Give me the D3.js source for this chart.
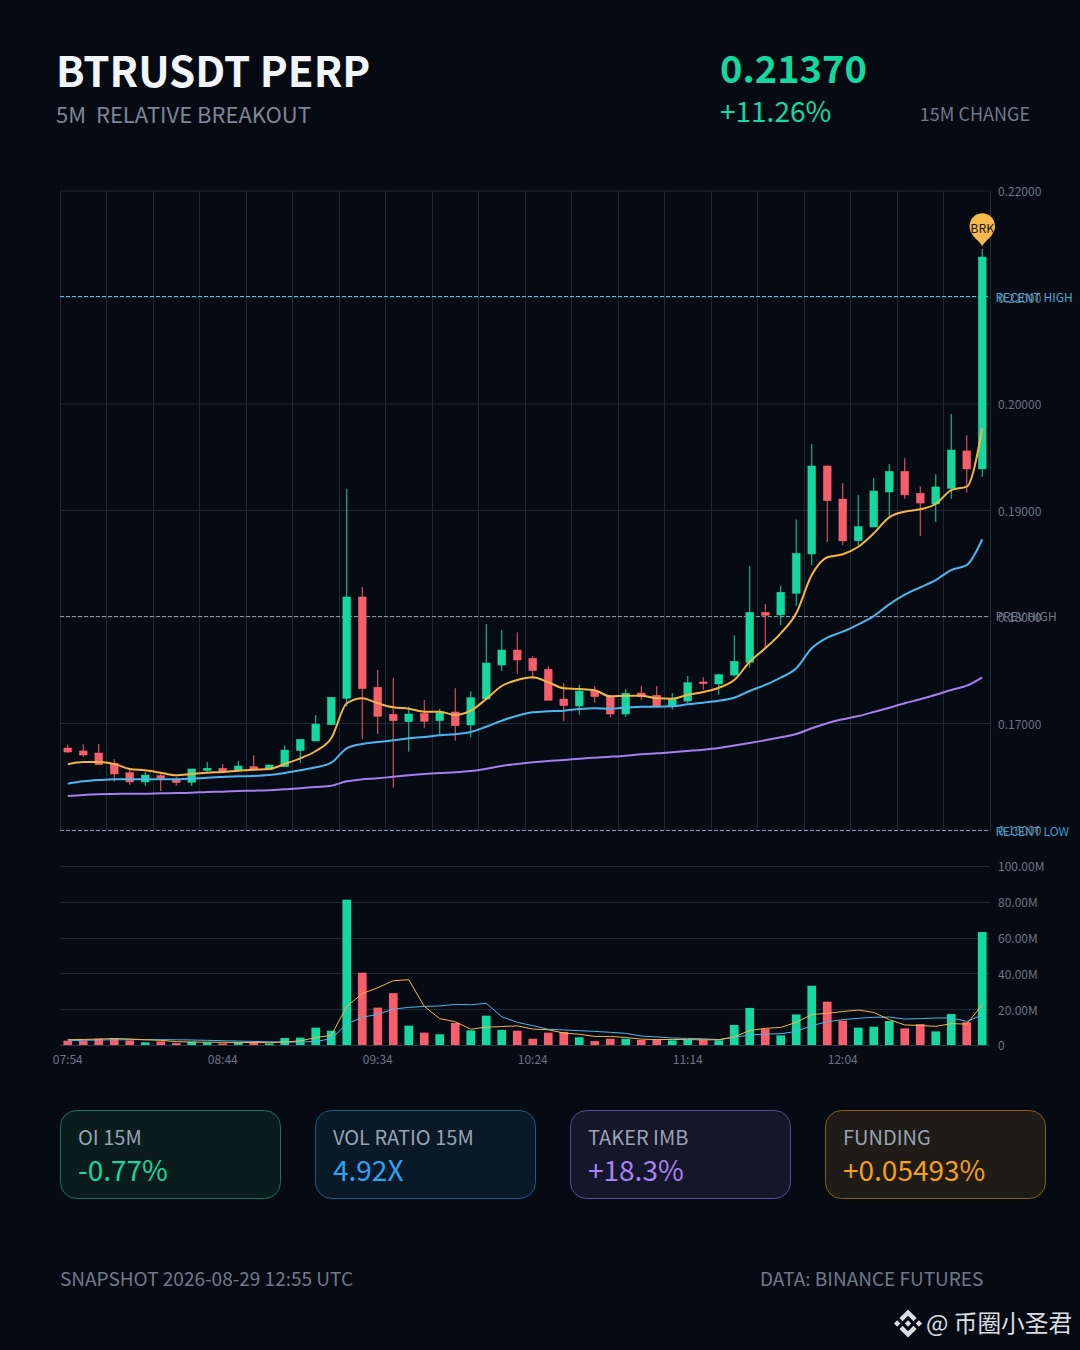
<!DOCTYPE html>
<html>
<head>
<meta charset="utf-8">
<title>BTRUSDT PERP</title>
<script src="https://cdn.jsdelivr.net/npm/d3@7"></script>
<style>
  html, body { margin: 0; padding: 0; background: #060b13; }
  svg { display: block; }
  text { font-family: "Noto Sans CJK SC", "Noto Sans", sans-serif; }
</style>
</head>
<body>
<div id="chart"></div>
<script>
// data
var times = ["07:54","07:59","08:04","08:09","08:14","08:19","08:24","08:29","08:34","08:39",
  "08:44","08:49","08:54","08:59","09:04","09:09","09:14","09:19","09:24","09:29",
  "09:34","09:39","09:44","09:49","09:54","09:59","10:04","10:09","10:14","10:19",
  "10:24","10:29","10:34","10:39","10:44","10:49","10:54","10:59","11:04","11:09",
  "11:14","11:19","11:24","11:29","11:34","11:39","11:44","11:49","11:54","11:59",
  "12:04","12:09","12:14","12:19","12:24","12:29","12:34","12:39","12:44","12:49"];
var timeTicks = ["07:54","08:44","09:34","10:24","11:14","12:04"];

var open = [.16770,.16742,.16723,.16626,.16538,.16451,.16510,.16469,.16448,.16561,
  .16579,.16561,.16594,.16570,.16594,.16745,.16836,.16989,.17237,.18188,
  .17340,.17086,.17017,.17092,.17026,.17108,.16986,.17230,.17549,.17690,
  .17612,.17509,.17230,.17164,.17308,.17252,.17089,.17286,.17265,.17164,
  .17211,.17390,.17371,.17455,.17575,.18044,.18019,.18223,.18592,.19418,
  .19108,.18716,.18845,.19174,.19368,.19162,.19061,.19208,.19559,.19390];
var close = [.16732,.16704,.16613,.16526,.16451,.16516,.16482,.16444,.16573,.16579,
  .16547,.16601,.16570,.16610,.16751,.16852,.16995,.17246,.18188,.17327,
  .17068,.17026,.17089,.17021,.17101,.16979,.17242,.17568,.17690,.17596,
  .17496,.17218,.17167,.17305,.17252,.17089,.17284,.17252,.17164,.17233,
  .17383,.17374,.17458,.17584,.18044,.18016,.18232,.18598,.19418,.19092,
  .18714,.18848,.19183,.19368,.19146,.19070,.19221,.19568,.19390,.21380];
var high = [.16801,.16805,.16808,.16664,.16579,.16547,.16532,.16500,.16573,.16638,
  .16620,.16648,.16701,.16610,.16795,.16854,.17080,.17249,.19202,.18282,
  .17502,.17430,.17158,.17221,.17136,.17331,.17302,.17934,.17878,.17856,
  .17634,.17540,.17377,.17362,.17352,.17268,.17324,.17355,.17352,.17286,
  .17446,.17434,.17468,.17828,.18479,.18122,.18294,.18917,.19624,.19424,
  .19258,.19146,.19305,.19437,.19490,.19227,.19340,.19906,.19706,.21455];
var low = [.16723,.16685,.16610,.16454,.16423,.16416,.16366,.16416,.16413,.16547,
  .16538,.16547,.16557,.16563,.16592,.16629,.16836,.16986,.17161,.16854,
  .16901,.16397,.16735,.16961,.16899,.16839,.16870,.17230,.17493,.17465,
  .17415,.17218,.17021,.17083,.17195,.17058,.17061,.17221,.17164,.17130,
  .17190,.17317,.17270,.17439,.17524,.17700,.17925,.18103,.18485,.18704,
  .18673,.18673,.18845,.18936,.19111,.18761,.18892,.19111,.19167,.19315];

var maFast = [.16617,.16638,.16638,.16620,.16573,.16561,.16538,.16514,.16526,.16538,
  .16545,.16557,.16566,.16573,.16620,.16673,.16742,.16861,.17190,.17237,
  .17190,.17152,.17139,.17111,.17111,.17080,.17120,.17230,.17352,.17408,
  .17434,.17387,.17331,.17324,.17312,.17255,.17261,.17261,.17237,.17233,
  .17270,.17296,.17336,.17408,.17580,.17706,.17847,.18035,.18394,.18561,
  .18589,.18660,.18786,.18936,.18989,.19011,.19061,.19192,.19224,.19772];
var maMid = [.16435,.16457,.16469,.16476,.16476,.16476,.16476,.16476,.16482,.16491,
  .16498,.16504,.16507,.16516,.16535,.16561,.16589,.16632,.16767,.16808,
  .16826,.16842,.16861,.16873,.16889,.16899,.16920,.16970,.17026,.17073,
  .17105,.17115,.17120,.17136,.17143,.17139,.17148,.17158,.17158,.17161,
  .17180,.17195,.17214,.17242,.17305,.17362,.17430,.17518,.17706,.17806,
  .17862,.17931,.18009,.18119,.18209,.18279,.18347,.18441,.18488,.18730];
var maSlow = [.16319,.16329,.16335,.16338,.16341,.16341,.16345,.16347,.16350,.16357,
  .16360,.16366,.16369,.16373,.16382,.16392,.16404,.16416,.16457,.16476,
  .16485,.16500,.16514,.16526,.16535,.16542,.16554,.16576,.16601,.16620,
  .16636,.16648,.16657,.16669,.16679,.16688,.16698,.16711,.16720,.16730,
  .16742,.16754,.16770,.16793,.16817,.16842,.16870,.16901,.16955,.17002,
  .17039,.17070,.17108,.17148,.17190,.17227,.17270,.17315,.17355,.17434];

// volume in millions
var volume = [2.4,2.4,3.5,3.9,2.6,1.5,2.0,1.1,1.9,1.5,
  0.9,1.3,1.5,0.9,3.9,4.1,9.7,8.0,81.2,40.4,
  20.9,29.0,10.8,6.9,6.0,12.3,8.2,16.4,8.4,8.0,
  3.5,6.9,7.3,4.3,2.2,3.5,3.5,2.8,3.2,2.6,
  3.0,3.0,2.6,11.2,20.7,8.9,5.4,17.1,33.1,24.2,
  13.6,9.7,10.2,13.4,9.3,11.7,7.6,17.3,12.7,63.1];
var volFast = [3.0,3.1,3.3,3.6,3.4,2.9,2.6,1.9,1.6,1.6,
  1.5,1.4,1.4,1.3,1.7,2.3,4.1,5.4,21.6,28.7,
  32.0,35.9,36.5,21.6,14.7,13.0,8.8,10.0,10.3,10.7,
  8.9,8.5,6.7,6.0,4.8,4.8,4.2,3.3,3.0,3.1,
  3.0,2.9,2.9,4.5,8.1,9.3,9.8,12.7,17.0,17.7,
  18.7,19.5,18.2,14.2,11.2,10.9,10.4,11.9,11.7,22.5];
var volSlow = [2.4,2.6,2.8,2.9,3.0,3.0,3.0,2.9,2.8,2.6,
  2.4,2.2,2.0,1.8,1.6,1.7,2.0,3.5,11.7,15.5,
  17.1,20.1,21.0,21.6,21.8,22.7,22.5,23.3,15.8,12.7,
  10.8,8.8,8.4,8.0,7.6,7.1,6.5,5.0,4.5,3.9,
  3.7,3.5,3.0,4.3,5.6,6.1,6.3,7.6,10.8,13.0,
  14.2,14.9,15.5,15.6,14.5,14.7,15.1,15.1,13.2,16.8];

var priceTicks = [.16,.17,.18,.19,.20,.21,.22];
var volumeTicks = [0,20,40,60,80,100];
var recentHigh = .21012, prevHigh = .1801, recentLow = .16;
var cards = [
  {label: "OI 15M", value: "-0.77%", color: "#19d69b", bg: "#0b1c1d", border: "#12755c"},
  {label: "VOL RATIO 15M", value: "4.92X", color: "#2ea3f2", bg: "#0a1927", border: "#1c5c88"},
  {label: "TAKER IMB", value: "+18.3%", color: "#a583f2", bg: "#15162a", border: "#5c4a94"},
  {label: "FUNDING", value: "+0.05493%", color: "#f59e1b", bg: "#1f1b17", border: "#8a5f1e"}
];

var UP = "#14d8a0", DOWN = "#f75e6c";
var GRID = "#1e2935", TICK_TEXT = "#6b7583";
var ORANGE = "#f5b544", BLUE = "#4db6ee", PURPLE = "#a57ff0";

var svg = d3.select("#chart").append("svg")
  .attr("width", 1080)
  .attr("height", 1350);

svg.append("rect").attr("width", 1080).attr("height", 1350).attr("fill", "#060b13");

// scales
var x = d3.scaleBand().domain(times).range([60, 990]);
var y = d3.scaleLinear().domain([.16, .22]).range([830, 191]);
var yVol = d3.scaleLinear().domain([0, 100]).range([1045, 866]);
var xc = function(i) { return x(times[i]) + x.bandwidth() / 2; };
var idx = d3.range(times.length);

// header
function label(str, px, py, size, color, weight, anchor) {
  return svg.append("text").attr("x", px).attr("y", py)
    .attr("font-size", size).attr("fill", color)
    .attr("font-weight", weight || 400)
    .attr("text-anchor", anchor || "start")
    .text(str);
}
label("BTRUSDT PERP", 56, 87, 42, "#f2f5f8", 700);
label("5M  RELATIVE BREAKOUT", 56, 123, 22, "#7c8695").style("white-space", "pre");
label("0.21370", 720, 83, 38, UP, 700);
label("+11.26%", 720, 122, 28, UP);
label("15M CHANGE", 1030, 121, 18, "#6f7a89", 400, "end");

// price grid
var gridG = svg.append("g");
gridG.selectAll(".h").data(priceTicks).enter().append("line")
  .attr("x1", 60).attr("x2", 991)
  .attr("y1", function(d) { return y(d); })
  .attr("y2", function(d) { return y(d); })
  .attr("stroke", GRID);
var vTicks = times.filter(function(d, i) { return i % 3 === 0; });
gridG.selectAll(".v").data(vTicks).enter().append("line")
  .attr("x1", function(d) { return Math.floor(x(d)) + .5; })
  .attr("x2", function(d) { return Math.floor(x(d)) + .5; })
  .attr("y1", 191).attr("y2", 830)
  .attr("stroke", GRID);
gridG.append("line").attr("x1", 990.5).attr("x2", 990.5).attr("y1", 191).attr("y2", 830).attr("stroke", "#232e3b");

// price axis
var yAxisG = svg.append("g")
  .attr("transform", "translate(991,1)")
  .call(d3.axisRight(y).tickValues(priceTicks).tickSize(0).tickPadding(7).tickFormat(d3.format(".5f")));
yAxisG.select(".domain").remove();
yAxisG.selectAll("text").attr("font-size", 12).attr("fill", TICK_TEXT).style("font-family", '"Noto Sans CJK SC"');

// reference levels
var levels = [
  {name: "RECENT HIGH", value: recentHigh, color: "#56bdf5", text: "#4aa5da"},
  {name: "PREV HIGH", value: prevHigh, color: "#8b97a8", text: "#6f7987"},
  {name: "RECENT LOW", value: recentLow, color: "#7f90a8", text: "#3f9bd2"}
];
levels.forEach(function(l) {
  svg.append("line").attr("x1", 60).attr("x2", 990)
    .attr("y1", Math.round(y(l.value)) + .5).attr("y2", Math.round(y(l.value)) + .5)
    .attr("stroke", l.color).attr("stroke-dasharray", "4 2");
  label(l.name, 995.5, y(l.value) + 5.5, 12, l.text);
});

// candles
var candles = svg.append("g").selectAll("g").data(idx).enter().append("g")
  .attr("fill", function(i) { return close[i] >= open[i] ? UP : DOWN; })
  .attr("stroke", function(i) { return close[i] >= open[i] ? UP : DOWN; });
candles.append("line")
  .attr("x1", xc).attr("x2", xc)
  .attr("y1", function(i) { return y(high[i]); })
  .attr("y2", function(i) { return y(low[i]); })
  .attr("stroke-width", 1);
candles.append("rect")
  .attr("x", function(i) { return xc(i) - x.step() * .25; })
  .attr("width", x.step() * .5)
  .attr("y", function(i) { return y(Math.max(open[i], close[i])); })
  .attr("height", function(i) { return Math.max(1, Math.abs(y(open[i]) - y(close[i]))); })
  .attr("stroke-width", 0.5);

// moving averages
function priceLine(values, color) {
  svg.append("path")
    .attr("d", d3.line().x(xc).y(function(i) { return y(values[i]); }).curve(d3.curveMonotoneX)(idx))
    .attr("fill", "none").attr("stroke", color).attr("stroke-width", 2);
}
priceLine(maSlow, PURPLE);
priceLine(maMid, BLUE);
priceLine(maFast, ORANGE);

// breakout pin
var last = idx.length - 1;
var pinX = xc(last), pinTip = y(high[last]) - 2;
svg.append("path")
  .attr("transform", "translate(" + pinX + "," + pinTip + ")")
  .attr("d", "M0,0 C-1,-6 -12.7,-10 -12.7,-21 A12.7,12.7 0 1 1 12.7,-21 C12.7,-10 1,-6 0,0 Z")
  .attr("fill", "#f8b94c");
label("BRK", pinX, pinTip - 14.5, 12.3, "#1a1c20", 400, "middle");

// volume grid + axis
svg.append("g").selectAll("line").data(volumeTicks).enter().append("line")
  .attr("x1", 60).attr("x2", 990)
  .attr("y1", function(d) { return Math.round(yVol(d)) + .5; })
  .attr("y2", function(d) { return Math.round(yVol(d)) + .5; })
  .attr("stroke", function(d) { return d === 0 ? "#2a3442" : GRID; });

var volAxisG = svg.append("g")
  .attr("transform", "translate(991,1)")
  .call(d3.axisRight(yVol).tickValues(volumeTicks).tickSize(0).tickPadding(7)
    .tickFormat(function(d) { return d === 0 ? "0" : d3.format(".2f")(d) + "M"; }));
volAxisG.select(".domain").remove();
volAxisG.selectAll("text").attr("font-size", 12).attr("fill", TICK_TEXT).style("font-family", '"Noto Sans CJK SC"');

// volume bars
svg.append("g").selectAll("rect").data(idx).enter().append("rect")
  .attr("x", function(i) { return xc(i) - x.step() * .28; })
  .attr("width", x.step() * .56)
  .attr("y", function(i) { return yVol(volume[i]); })
  .attr("height", function(i) { return yVol(0) - yVol(volume[i]); })
  .attr("fill", function(i) { return close[i] >= open[i] ? UP : DOWN; });

function volLine(values, color) {
  svg.append("path")
    .attr("d", d3.line().x(xc).y(function(i) { return yVol(values[i]); })(idx))
    .attr("fill", "none").attr("stroke", color).attr("stroke-width", 1);
}
volLine(volSlow, BLUE);
volLine(volFast, ORANGE);

// time axis
var xAxisG = svg.append("g")
  .attr("transform", "translate(0,1046)")
  .call(d3.axisBottom(x).tickValues(timeTicks).tickSize(0).tickPadding(9));
xAxisG.select(".domain").remove();
xAxisG.selectAll("text").attr("font-size", 12).attr("fill", TICK_TEXT).style("font-family", '"Noto Sans CJK SC"');

// stat cards
var cardX = d3.scalePoint().domain(cards.map(function(c) { return c.label; })).range([60.5, 825.5]);
cards.forEach(function(c) {
  var cx = cardX(c.label);
  svg.append("rect").attr("x", cx).attr("y", 1110.5).attr("width", 220).attr("height", 88)
    .attr("rx", 16).attr("fill", c.bg).attr("stroke", c.border);
  label(c.label, cx + 17.5, 1145, 20, "#98a3b3");
  label(c.value, cx + 17.5, 1181, 28, c.color);
});

// footer
label("SNAPSHOT 2026-08-29 12:55 UTC", 60, 1286, 19, "#6f7a89");
label("DATA: BINANCE FUTURES", 760, 1286, 19, "#6f7a89");

// watermark
svg.append("path")
  .attr("transform", "translate(894,1309.5) scale(1.17)")
  .attr("d", "M16.624 13.92l2.718 2.716-7.353 7.353-7.353-7.352 2.717-2.715 4.636 4.66 4.635-4.662zm4.637-4.636L24 12l-2.715 2.717L18.568 12l2.693-2.716zm-9.272 0l2.716 2.692-2.717 2.717L9.272 12l2.716-2.715zm-9.273 0L5.41 12l-2.692 2.692L0 12l2.716-2.716zM11.99.01l7.352 7.33-2.717 2.715-4.636-4.636-4.635 4.66-2.717-2.716L11.989.011z")
  .attr("fill", "#d9dde2");
label("@ 币圈小圣君", 926, 1332, 23.7, "#d9dde2");
</script>
</body>
</html>
